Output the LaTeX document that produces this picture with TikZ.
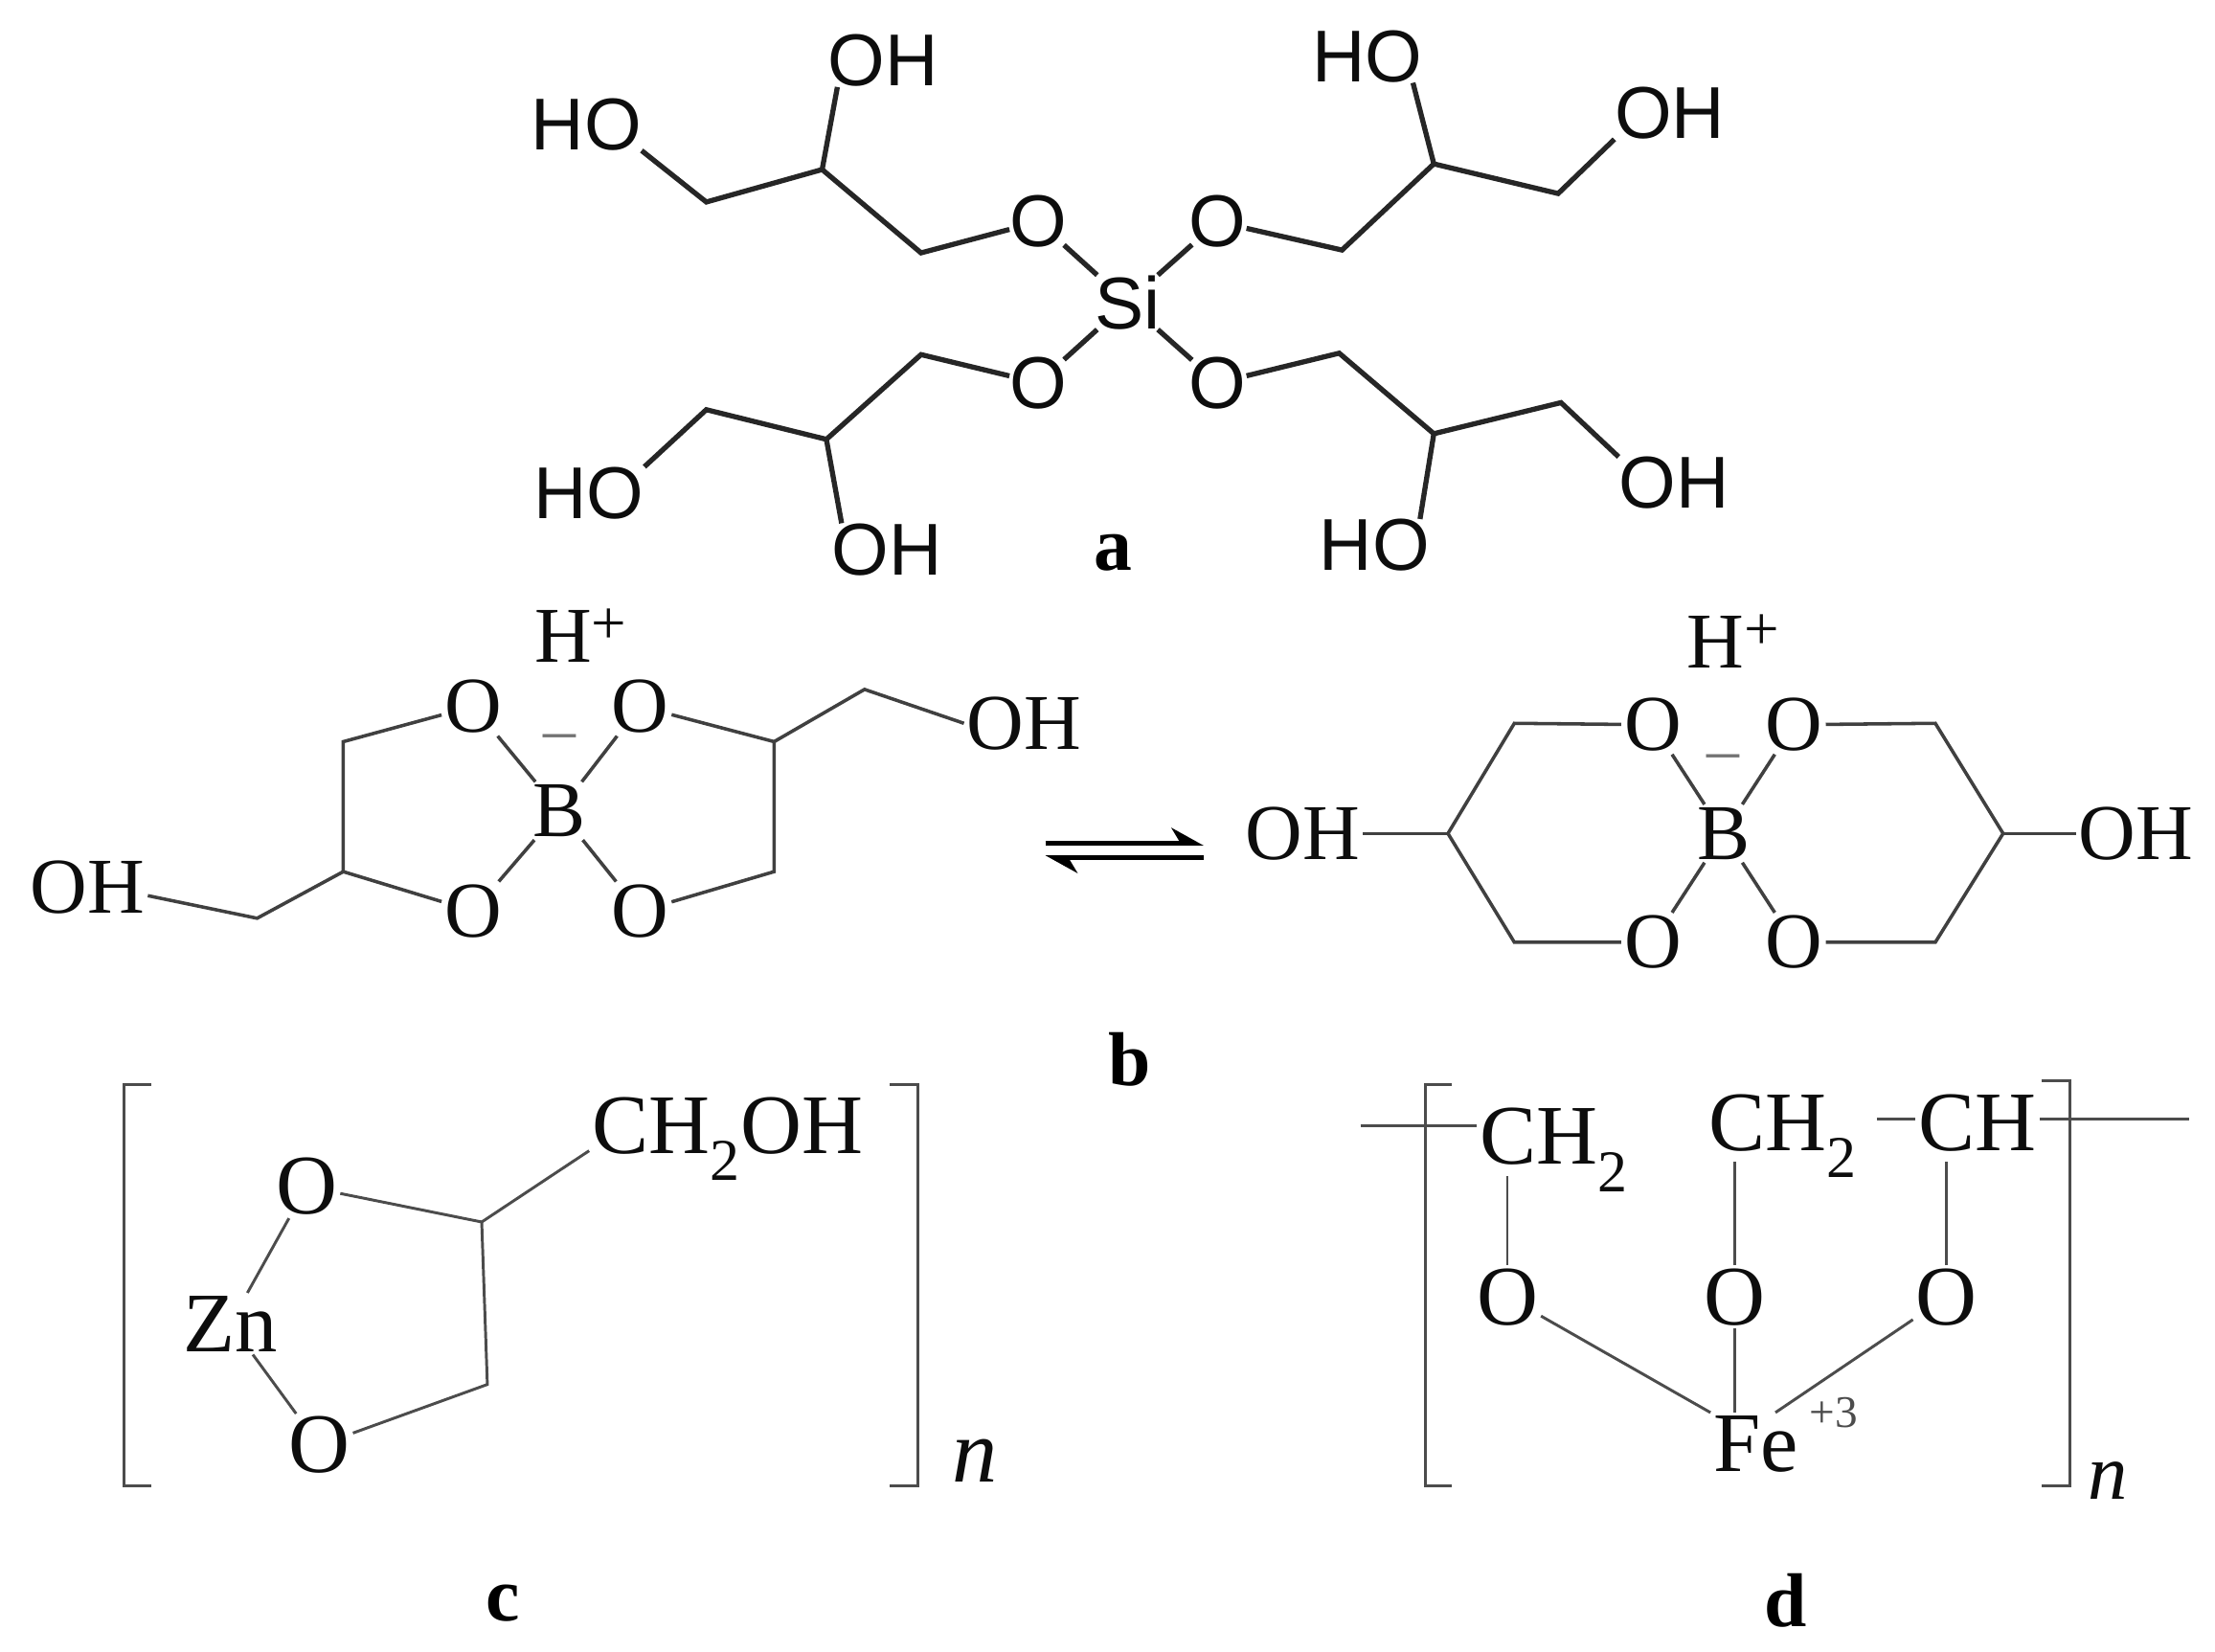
\documentclass[tikz,border=0pt]{standalone}
\usepackage{fontspec}
\setmainfont{Liberation Serif}
\setsansfont{Liberation Sans}
\usetikzlibrary{arrows.meta,arrows}
\newcommand{\hplus}{H\raisebox{13pt}{\fontsize{44}{44}\selectfont +}}
\tikzset{
  atomA/.style={font=\sffamily\fontsize{52}{56}\selectfont, text=black!95, inner sep=0pt},
  atomB/.style={font=\fontsize{56}{60}\selectfont, text=black!95, inner sep=2pt},
  atomC/.style={font=\fontsize{60}{64}\selectfont, text=black!95, inner sep=2pt},
  panel/.style={font=\bfseries\fontsize{54}{58}\selectfont, inner sep=0pt},
  minus/.style={font=\fontsize{46}{48}\selectfont, text=black!55, inner sep=0pt},
  bondA/.style={line width=3.6pt, black!85, line join=miter},
  bondB/.style={line width=2.4pt, black!75},
  bondC/.style={line width=2pt, black!70},
}

\begin{document}
\begin{tikzpicture}[x=1pt,y=-1pt]
    \useasboundingbox (0, 0) rectangle (1568, 1169);
    % Silicate
       \node[atomA] (si) at (798, 214) {Si};
       \node[atomA] (oa) at (735, 157) {O};
       \node[atomA] (ob) at (862, 157) {O};
       \node[atomA] (oc) at (735, 271) {O};
       \node[atomA] (od) at (862, 271) {O};
       \node[atomA] (hoa) at (415, 88) {HO};
       \node[atomA] (oha) at (625, 43) {OH};
       \node[atomA] (hob) at (968, 40) {HO};
       \node[atomA] (ohb) at (1182, 80) {OH};
       \node[atomA] (hoc) at (417, 349) {HO};
       \node[atomA] (ohc) at (628, 389) {OH};
       \node[atomA] (hod) at (973, 386) {HO};
       \node[atomA] (ohd) at (1185, 342) {OH};
       \coordinate (aa) at (652, 179);
       \coordinate (ab) at (582, 120);
       \coordinate (ac) at (500, 143);
       \coordinate (ba) at (950, 177);
       \coordinate (bb) at (1015, 116);
       \coordinate (bc) at (1103, 137);
       \coordinate (ca) at (652, 251);
       \coordinate (cb) at (585, 311);
       \coordinate (cc) at (500, 290);
       \coordinate (da) at (948, 250);
       \coordinate (db) at (1015, 307);
       \coordinate (dc) at (1105, 285);
       \foreach \o in {oa,ob,oc,od} \draw[bondA, shorten >=-3pt] (si) -- (\o);
       \draw[bondA] (oa) -- (aa) -- (ab) -- (ac) -- (hoa.south east);
       \draw[bondA] (ab) -- (oha.-150);
       \draw[bondA] (ob) -- (ba) -- (bb) -- (bc) -- (ohb.south west);
       \draw[bondA] (bb) -- (hob.-30);
       \draw[bondA] (oc) -- (ca) -- (cb) -- (cc) -- (hoc.north east);
       \draw[bondA] (cb) -- (ohc.150);
       \draw[bondA] (od) -- (da) -- (db) -- (dc) -- (ohd.north west);
       \draw[bondA] (db) -- (hod.30);
       \node[panel] (la) at (788, 391) {a};
    % Borate, open form
       \node[atomB] (hpa) at (411, 450) {\hplus};
       \node[atomB] (ba1) at (396, 574) {B};
       \node[minus] (mia) at (396, 526) {–};
       \node[atomB] (oe) at (335, 500) {O};
       \node[atomB] (of) at (453, 500) {O};
       \node[atomB] (og) at (335, 645) {O};
       \node[atomB] (oh) at (453, 645) {O};
       \node[atomB] (ohe) at (62, 628) {OH};
       \node[atomB] (ohf) at (725, 512) {OH};
       \coordinate (ea) at (243, 525);
       \coordinate (eb) at (243, 617);
       \coordinate (ec) at (182, 650);
       \coordinate (fa) at (548, 525);
       \coordinate (fb) at (548, 617);
       \coordinate (fc) at (612, 488);
       \foreach \o in {oe,of,og,oh} \draw[bondB] (ba1) -- (\o);
       \draw[bondB] (oe) -- (ea) -- (eb) -- (og);
       \draw[bondB] (eb) -- (ec) -- (ohe.-8);
       \draw[bondB] (of) -- (fa) -- (fb) -- (oh);
       \draw[bondB] (fa) -- (fc) -- (ohf.west);
    % Equilibrium
       \coordinate (eqa) at (740, 597);
       \coordinate (eqb) at (852, 597);
       \coordinate (eqc) at (852, 607);
       \coordinate (eqd) at (740, 607);
       \draw[bondB, black, line width=3pt, -{Stealth[harpoon,length=20pt,width=22pt]}] (eqa) -- (eqb);
       \draw[bondB, black, line width=3pt, -{Stealth[harpoon,length=20pt,width=22pt]}] (eqc) -- (eqd);
    % Borate, closed form
       \node[atomB] (hpb) at (1227, 454) {\hplus};
       \node[atomB] (bb1) at (1220, 590) {B};
       \node[minus] (mib) at (1220, 540) {–};
       \node[atomB] (oi) at (1170, 513) {O};
       \node[atomB] (oj) at (1270, 513) {O};
       \node[atomB] (ok) at (1170, 667) {O};
       \node[atomB] (ol) at (1270, 667) {O};
       \node[atomB] (ohg) at (922, 590) {OH};
       \node[atomB] (ohh) at (1512, 590) {OH};
       \coordinate (ga) at (1072, 512);
       \coordinate (gb) at (1025, 590);
       \coordinate (gc) at (1072, 667);
       \coordinate (ha) at (1370, 512);
       \coordinate (hb) at (1418, 590);
       \coordinate (hc) at (1370, 667);
       \foreach \o in {oi,oj,ok,ol} \draw[bondB] (bb1) -- (\o);
       \draw[bondB] (oi) -- (ga) -- (gb) -- (gc) -- (ok);
       \draw[bondB] (gb) -- (ohg);
       \draw[bondB] (oj) -- (ha) -- (hb) -- (hc) -- (ol);
       \draw[bondB] (hb) -- (ohh);
       \node[panel] (lb) at (800, 750) {b};
    % Zinc complex
       \node[atomC] (zn) at (163, 937) {Zn};
       \node[atomC] (om) at (217, 840) {O};
       \node[atomC] (on) at (226, 1023) {O};
       \node[atomC] (chc) at (515, 806) {CH\textsubscript{2}OH};
       \coordinate (ia) at (341, 865);
       \coordinate (ib) at (345, 980);
       \draw[bondC] (zn) -- (om);
       \draw[bondC] (zn) -- (on);
       \draw[bondC] (om) -- (ia) -- (ib) -- (on);
       \draw[bondC] (ia) -- (chc.-175);
       \draw[bondC] (107, 768) -- (88, 768) -- (88, 1052) -- (107, 1052);
       \draw[bondC] (630, 768) -- (650, 768) -- (650, 1052) -- (630, 1052);
       \node[atomC, font=\itshape\fontsize{64}{68}\selectfont] (na) at (690, 1034) {n};
       \node[panel] (lc) at (356, 1135) {c};
    % Iron complex
       \node[atomC] (fe) at (1243, 1022) {Fe};
       \node[atomC, font=\fontsize{32}{34}\selectfont, text=black!70] (fp) at (1298, 1000) {+3};
       \node[atomC] (oo) at (1067, 918) {O};
       \node[atomC] (op) at (1228, 918) {O};
       \node[atomC] (oq) at (1378, 918) {O};
       \node[atomC] (chd) at (1100, 814) {CH\textsubscript{2}};
       \node[atomC] (che) at (1262, 804) {CH\textsubscript{2}};
       \node[atomC] (chf) at (1400, 795) {CH};
       \coordinate (ja) at (963, 797);
       \coordinate (jb) at (1550, 792);
       \draw[bondC] (ja) -- (ja -| chd.west);
       \draw[bondC, shorten <=12pt] (che.east |- jb) -- (chf.west |- jb);
       \draw[bondC] (chf.east |- jb) -- (jb);
       \draw[bondC, shorten >=8pt] (oo) -- (oo |- chd.base);
       \draw[bondC, shorten >=8pt] (op) -- (op |- che.base);
       \draw[bondC, shorten >=8pt] (oq) -- (oq |- chf.base);
       \draw[bondC] (oo) -- (fe.north west);
       \draw[bondC] (op) -- (op |- fe.north);
       \draw[bondC] (oq) -- (fe.58);
       \draw[bondC] (1028, 768) -- (1009, 768) -- (1009, 1052) -- (1028, 1052);
       \draw[bondC] (1445, 765) -- (1465, 765) -- (1465, 1052) -- (1445, 1052);
       \node[atomC, font=\itshape\fontsize{56}{60}\selectfont] (nb) at (1492, 1048) {n};
       \node[panel] (ld) at (1264, 1133) {d};
\end{tikzpicture}
\end{document}
